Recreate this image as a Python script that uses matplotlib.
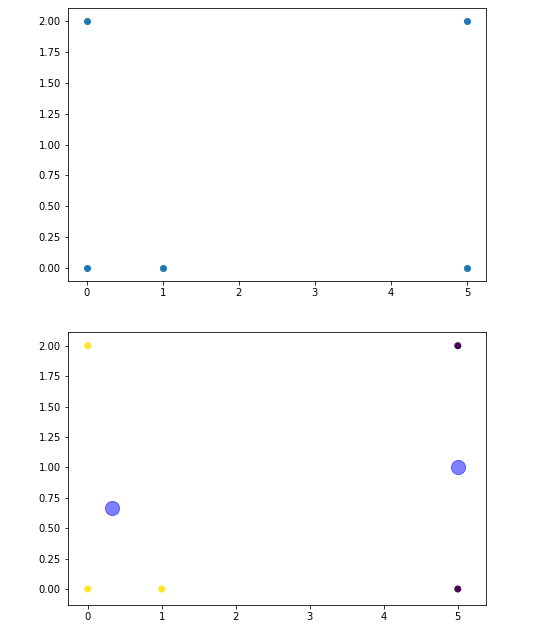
import matplotlib
matplotlib.use("Agg")
import matplotlib.pyplot as plt

xs = [0, 0, 1, 5, 5]
ys = [0, 2, 0, 0, 2]
labels = [1, 1, 1, 0, 0]
center_x = [1 / 3, 5]
center_y = [2 / 3, 1]

fig = plt.figure(figsize=(534 / 72, 638 / 72), dpi=72)
ax1 = fig.add_axes([0.127, 0.560, 0.783, 0.427])
ax1.scatter(xs, ys)

ax2 = fig.add_axes([0.127, 0.052, 0.783, 0.428])
ax2.scatter(xs, ys, c=labels, cmap="viridis")
ax2.scatter(center_x, center_y, c="blue", s=200, alpha=0.5)
# big centre markers widened the autoscaled limits in the original
ax2.set_xlim(-0.27, 5.38)
ax2.set_ylim(-0.13, 2.115)

fig.savefig("out.png", dpi=72)
